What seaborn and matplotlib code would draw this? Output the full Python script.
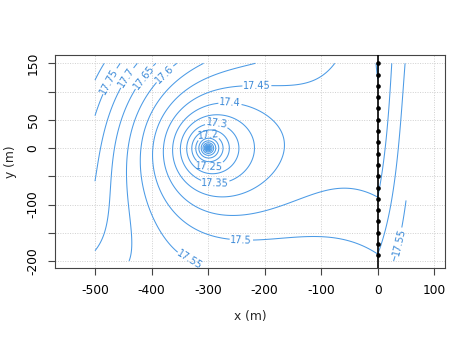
import numpy as np
import matplotlib
matplotlib.use("Agg")
import matplotlib.pyplot as plt
import seaborn as sns

# ---- site layout -------------------------------------------------------
well_x, well_y = -300.0, 0.0          # pumping well
image_x, image_y = 300.0, 0.0         # image well mirrored across the river
river_x = 0.0
dom_x = (-500.0, 50.0)                # model extent (m)
dom_y = (-200.0, 150.0)

# observation points along the river line
obs_x = [0] * 18
obs_y = [150, 130, 110, 90, 70, 50, 30, 10, -10, -30,
         -50, -70, -90, -110, -130, -150, -170, -190]

# ---- digitised head contours (x, y) per level ---------------------------
h1720 = [(-300, 23), (-324, 0), (-278, 0)]
h1725 = [(-297, -30), (-333, 0), (-268, 0)]
h1730 = [(-285, 44), (-342, 0), (-250, 0)]
h1735 = [(-288, -62), (-354, 0), (-209, 0)]
h1740 = [(-262, 77), (-165, 0), (-185, -60), (-315, -83), (-366, 0)]
h1745 = [(24, 150), (18, 50), (9, -50), (0, -90), (-32, -77), (-73, -64),
         (-114, -74), (-173, -104), (-261, -118), (-315, -115), (-381, 0),
         (-315, 88), (-241, 105), (-214, 107), (-132, 114), (-88, 150)]
h1750 = [(48, 150), (42, 50), (33, -50), (24, -100), (12, -150), (0, -189),
         (-55, -168), (-114, -151), (-218, -158), (-262, -157), (-368, -104),
         (-398, 0), (-315, 141), (-221, 150)]
h1755 = [(49, -87), (34, -140), (20, -192), (-306, -200), (-327, -189),
         (-350, -177), (-386, -145), (-409, -56), (-418, 0), (-303, 150)]
h1760 = [(-456, -198), (-442, -177), (-439, -139), (-439, -56), (-439, 0),
         (-375, 129), (-350, 150)]
h1765 = [(-500, -186), (-474, -121), (-471, -56), (-469, 0), (-407, 120),
         (-389, 150)]
h1770 = [(-500, -74), (-492, 0), (-442, 123), (-421, 150)]
h1775 = [(-500, 50), (-472, 117), (-456, 150)]
h1780 = [(-500, 129), (-489, 150)]
# river stage along x = 0 and heads between mapped contours
stage = [(0, 150, 17.40), (0, 50, 17.413), (0, -50, 17.431)]
between = [(-150, -200, 17.525), (-230, -200, 17.535), (-70, -200, 17.52),
           (50, -200, 17.575), (50, -150, 17.56), (-150, 140, 17.47),
           (-100, 40, 17.43), (-60, -20, 17.435)]

traces = {17.20: h1720, 17.25: h1725, 17.30: h1730, 17.35: h1735,
          17.40: h1740, 17.45: h1745, 17.50: h1750, 17.55: h1755,
          17.60: h1760, 17.65: h1765, 17.70: h1770, 17.75: h1775,
          17.80: h1780}

levels = np.round(np.arange(16.10, 17.851, 0.05), 2)


def basis(x, y):
    x = np.asarray(x, float)
    y = np.asarray(y, float)
    X, Y = x / 100.0, y / 100.0
    left = (x <= river_x).astype(float)
    right = 1.0 - left
    r = np.maximum(np.hypot(x - well_x, y - well_y), 1.2)
    ri = np.hypot(x - image_x, y - image_y)
    cols = [np.ones_like(X), Y, Y ** 2, Y ** 3,
            left * np.log(r / ri),
            left * (-X), left * (-X) * Y, left * (-X) * Y ** 2,
            left * (-X) * Y ** 3,
            left * X ** 2, left * X ** 2 * Y, left * X ** 2 * Y ** 2,
            left * (-X) ** 3, left * (-X) ** 3 * Y,
            right * X, right * X * Y, right * X * Y ** 2]
    return np.stack(cols, axis=-1)


px, py, pv = [], [], []
for lev, pts in traces.items():
    for (a, b) in pts:
        px.append(a); py.append(b); pv.append(lev)
for (a, b, v) in stage + between:
    px.append(a); py.append(b); pv.append(v)
A = basis(px, py)
v = np.array(pv)
lam = 1e-4
coef = np.linalg.solve(A.T @ A + lam * np.eye(A.shape[1]), A.T @ v)

gx = np.linspace(dom_x[0], dom_x[1], 441)
gy = np.linspace(dom_y[0], dom_y[1], 281)
GX, GY = np.meshgrid(gx, gy)
H = basis(GX, GY) @ coef

# ---- drawing -----------------------------------------------------------
sns.set_style("white")
plt.rcParams["font.family"] = ["DejaVu Sans"]
plt.rcParams["axes.unicode_minus"] = False

fig = plt.figure(figsize=(4.74, 3.38), dpi=100)
ax = fig.add_axes([55 / 474, (338 - 268.3) / 338, 390 / 474, 213.3 / 338])

for gxv in range(-500, 101, 100):
    ax.axvline(gxv, color="#d0d0d0", lw=0.7, ls=(0, (1, 1.5)), zorder=0)
for gyv in range(-200, 151, 50):
    ax.axhline(gyv, color="#d0d0d0", lw=0.7, ls=(0, (1, 1.5)), zorder=0)

line_col = "#4c9be6"
cs = ax.contour(GX, GY, H, levels=levels, colors=line_col, linewidths=0.75)

label_spots = [(17.20, (-300, 23)), (17.25, (-297, -30)), (17.30, (-285, 44)),
               (17.35, (-288, -62)), (17.40, (-262, 77)),
               (17.45, (-214, 107)), (17.50, (-241, -158)),
               (17.55, (-327, -189)), (17.55, (31, -165)),
               (17.60, (-375, 129)), (17.65, (-407, 120)),
               (17.70, (-442, 123)), (17.75, (-472, 117))]
# snap each label spot onto its own contour level
snapped = []
lev_list = [round(float(l), 2) for l in cs.levels]
for lev, (sx, sy) in label_spots:
    k = lev_list.index(round(lev, 2))
    segs = [s for s in cs.allsegs[k] if len(s)]
    if not segs:
        continue
    verts = np.concatenate(segs)
    j = np.argmin((verts[:, 0] - sx) ** 2 + (verts[:, 1] - sy) ** 2)
    snapped.append((verts[j, 0], verts[j, 1]))

cs.clabel(levels=cs.levels, manual=snapped, inline=True, inline_spacing=2,
          fontsize=7, colors="#3c8ad8", fmt=lambda val: f"{val:g}")

ax.axvline(river_x, color="black", lw=1.2, zorder=3)
sns.scatterplot(x=obs_x, y=obs_y, color="black", s=11, edgecolor="black",
                linewidth=0, zorder=4, ax=ax)

ax.set_xlim(-570.7, 118.9)
ax.set_ylim(-212.9, 164.7)
ax.set_xticks(range(-500, 101, 100))
ax.set_xticklabels([str(t) for t in range(-500, 101, 100)])
yt = list(range(-200, 151, 50))
ax.set_yticks(yt)
ax.set_yticklabels([str(t) if t in (-200, -100, 0, 50, 150) else "" for t in yt],
                   rotation=90, va="center")
ax.tick_params(axis="both", direction="out", length=5, width=0.8,
               color="#444444", labelsize=8.8, pad=6, labelcolor="black")
ax.tick_params(left=True, bottom=True)
for sp in ax.spines.values():
    sp.set_color("#444444")
    sp.set_linewidth(0.8)
ax.set_xlabel("x (m)", fontsize=8.8)
ax.set_ylabel("y (m)", fontsize=8.8)
ax.xaxis.set_label_coords(0.5, (268.3 - 316.5) / 213.3)
ax.xaxis.label.set_verticalalignment("center")
ax.yaxis.set_label_coords((11 - 55) / 390, 0.5)
ax.yaxis.label.set_verticalalignment("center")
ax.yaxis.label.set_horizontalalignment("center")

fig.savefig("out.png", dpi=100)
